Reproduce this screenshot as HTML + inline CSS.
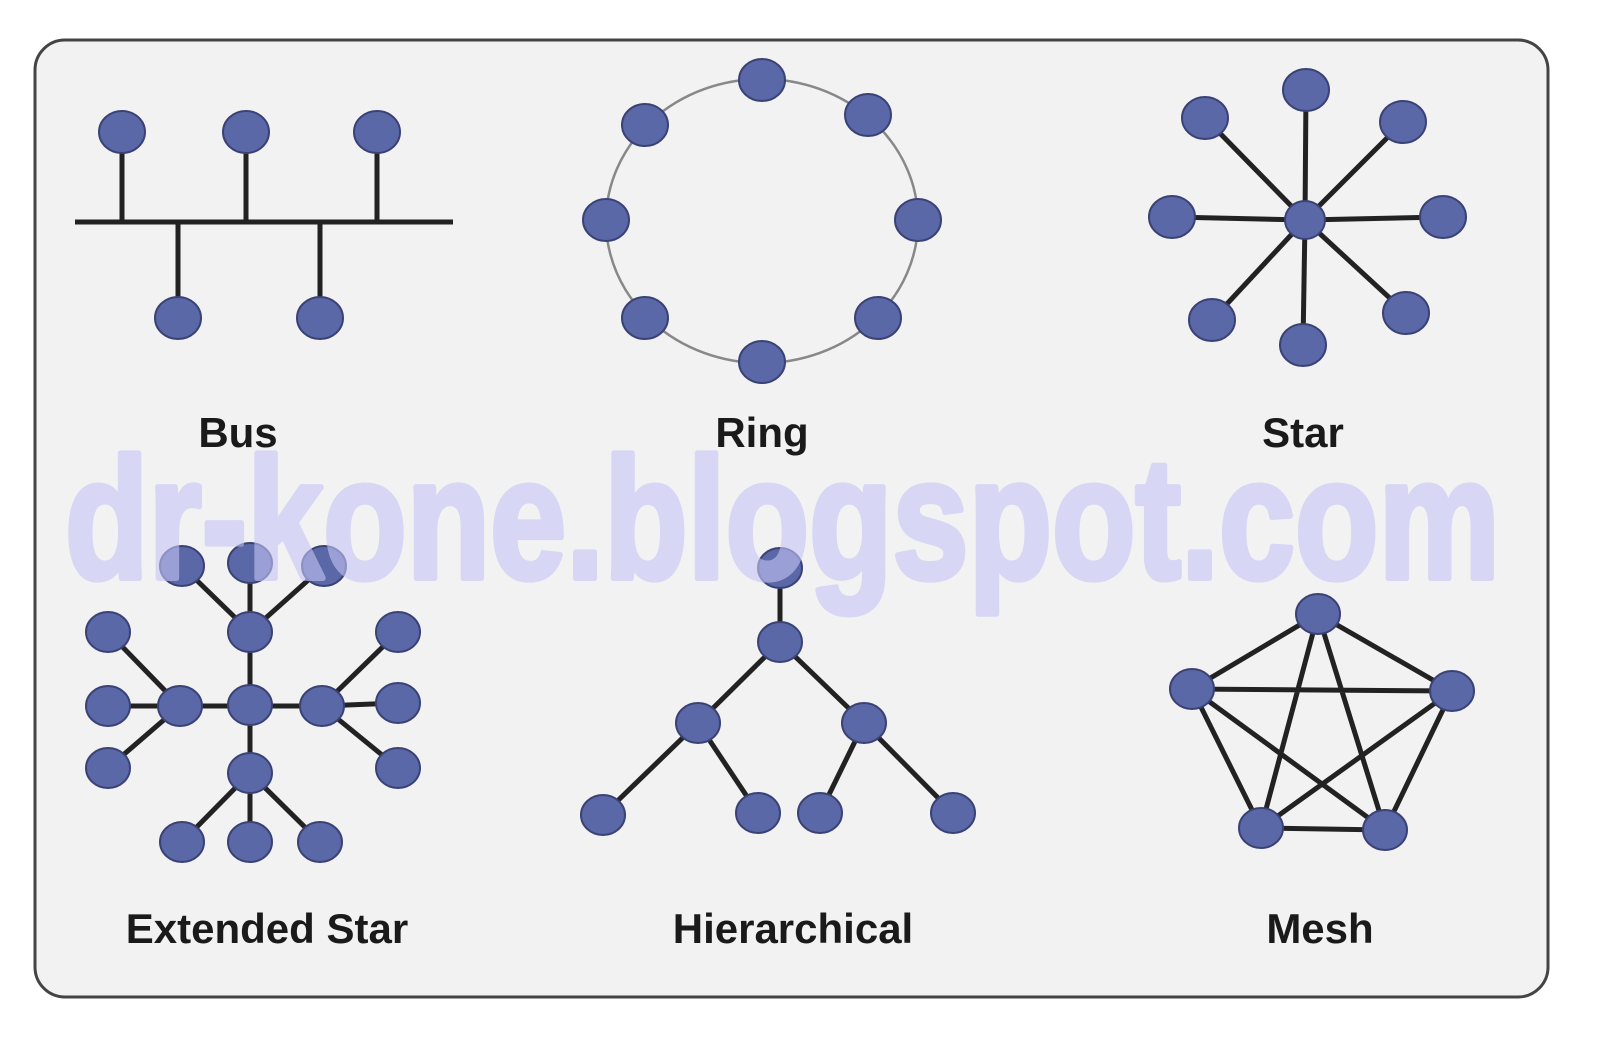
<!DOCTYPE html>
<html><head><meta charset="utf-8"><style>html,body{margin:0;padding:0;background:#fff;width:1600px;height:1044px;overflow:hidden}</style></head>
<body>
<svg width="1600" height="1044" xmlns="http://www.w3.org/2000/svg">
<rect x="35" y="40" width="1513" height="957" rx="30" fill="#f2f2f2" stroke="#444" stroke-width="3"/>
<g stroke="#222" stroke-width="5" fill="none">
<line x1="75" y1="222" x2="453" y2="222"/>
<line x1="122" y1="132" x2="122" y2="222"/><line x1="246" y1="132" x2="246" y2="222"/><line x1="377" y1="132" x2="377" y2="222"/>
<line x1="178" y1="222" x2="178" y2="318"/><line x1="320" y1="222" x2="320" y2="318"/>
<line x1="1305" y1="220" x2="1306" y2="90"/><line x1="1305" y1="220" x2="1403" y2="122"/><line x1="1305" y1="220" x2="1443" y2="217"/><line x1="1305" y1="220" x2="1406" y2="313"/><line x1="1305" y1="220" x2="1303" y2="345"/><line x1="1305" y1="220" x2="1212" y2="320"/><line x1="1305" y1="220" x2="1172" y2="217"/><line x1="1305" y1="220" x2="1205" y2="118"/>
<line x1="250" y1="632" x2="250" y2="773"/><line x1="180" y1="706" x2="322" y2="706"/>
<line x1="250" y1="632" x2="182" y2="566"/><line x1="250" y1="632" x2="250" y2="563"/><line x1="250" y1="632" x2="324" y2="566"/>
<line x1="180" y1="706" x2="108" y2="632"/><line x1="180" y1="706" x2="108" y2="706"/><line x1="180" y1="706" x2="108" y2="768"/>
<line x1="322" y1="706" x2="398" y2="632"/><line x1="322" y1="706" x2="398" y2="703"/><line x1="322" y1="706" x2="398" y2="768"/>
<line x1="250" y1="773" x2="182" y2="842"/><line x1="250" y1="773" x2="250" y2="842"/><line x1="250" y1="773" x2="320" y2="842"/>
<line x1="780" y1="568" x2="780" y2="642"/><line x1="780" y1="642" x2="698" y2="723"/><line x1="780" y1="642" x2="864" y2="723"/>
<line x1="698" y1="723" x2="603" y2="815"/><line x1="698" y1="723" x2="758" y2="813"/><line x1="864" y1="723" x2="820" y2="813"/><line x1="864" y1="723" x2="953" y2="813"/>
<polygon points="1318,614 1452,691 1385,830 1261,828 1192,689"/>
<polyline points="1318,614 1385,830 1192,689 1452,691 1261,828 1318,614"/>
</g>
<ellipse cx="762" cy="221" rx="156" ry="142" fill="none" stroke="#888" stroke-width="2.5"/>
<g fill="#5a68a8" stroke="#3a4275" stroke-width="2">
<ellipse cx="122" cy="132" rx="23" ry="21"/><ellipse cx="246" cy="132" rx="23" ry="21"/><ellipse cx="377" cy="132" rx="23" ry="21"/><ellipse cx="178" cy="318" rx="23" ry="21"/><ellipse cx="320" cy="318" rx="23" ry="21"/>
<ellipse cx="762" cy="80" rx="23" ry="21"/><ellipse cx="868" cy="115" rx="23" ry="21"/><ellipse cx="918" cy="220" rx="23" ry="21"/><ellipse cx="878" cy="318" rx="23" ry="21"/><ellipse cx="762" cy="362" rx="23" ry="21"/><ellipse cx="645" cy="318" rx="23" ry="21"/><ellipse cx="606" cy="220" rx="23" ry="21"/><ellipse cx="645" cy="125" rx="23" ry="21"/>
<ellipse cx="1305" cy="220" rx="20" ry="19"/><ellipse cx="1306" cy="90" rx="23" ry="21"/><ellipse cx="1403" cy="122" rx="23" ry="21"/><ellipse cx="1443" cy="217" rx="23" ry="21"/><ellipse cx="1406" cy="313" rx="23" ry="21"/><ellipse cx="1303" cy="345" rx="23" ry="21"/><ellipse cx="1212" cy="320" rx="23" ry="21"/><ellipse cx="1172" cy="217" rx="23" ry="21"/><ellipse cx="1205" cy="118" rx="23" ry="21"/>
<ellipse cx="250" cy="705" rx="22" ry="20"/><ellipse cx="250" cy="632" rx="22" ry="20"/><ellipse cx="180" cy="706" rx="22" ry="20"/><ellipse cx="322" cy="706" rx="22" ry="20"/><ellipse cx="250" cy="773" rx="22" ry="20"/>
<ellipse cx="182" cy="566" rx="22" ry="20"/><ellipse cx="250" cy="563" rx="22" ry="20"/><ellipse cx="324" cy="566" rx="22" ry="20"/>
<ellipse cx="108" cy="632" rx="22" ry="20"/><ellipse cx="108" cy="706" rx="22" ry="20"/><ellipse cx="108" cy="768" rx="22" ry="20"/>
<ellipse cx="398" cy="632" rx="22" ry="20"/><ellipse cx="398" cy="703" rx="22" ry="20"/><ellipse cx="398" cy="768" rx="22" ry="20"/>
<ellipse cx="182" cy="842" rx="22" ry="20"/><ellipse cx="250" cy="842" rx="22" ry="20"/><ellipse cx="320" cy="842" rx="22" ry="20"/>
<ellipse cx="780" cy="568" rx="22" ry="20"/><ellipse cx="780" cy="642" rx="22" ry="20"/><ellipse cx="698" cy="723" rx="22" ry="20"/><ellipse cx="864" cy="723" rx="22" ry="20"/><ellipse cx="603" cy="815" rx="22" ry="20"/><ellipse cx="758" cy="813" rx="22" ry="20"/><ellipse cx="820" cy="813" rx="22" ry="20"/><ellipse cx="953" cy="813" rx="22" ry="20"/>
<ellipse cx="1318" cy="614" rx="22" ry="20"/><ellipse cx="1452" cy="691" rx="22" ry="20"/><ellipse cx="1385" cy="830" rx="22" ry="20"/><ellipse cx="1261" cy="828" rx="22" ry="20"/><ellipse cx="1192" cy="689" rx="22" ry="20"/>
</g>
<g font-family="Liberation Sans, sans-serif" font-weight="bold" font-size="42" fill="#1a1a1a" text-anchor="middle">
<text x="238" y="447">Bus</text><text x="762" y="447">Ring</text><text x="1303" y="447">Star</text>
<text x="267" y="943">Extended Star</text><text x="793" y="943">Hierarchical</text><text x="1320" y="943">Mesh</text>
</g>
<g opacity="0.6">
<text x="65" y="578" font-family="Liberation Sans, sans-serif" font-weight="bold" font-size="172" fill="#c6c4f6" stroke="#c6c4f6" stroke-width="6" stroke-linejoin="round" textLength="1435" lengthAdjust="spacingAndGlyphs">dr-kone.blogspot.com</text>
</g>
</svg>
</body></html>
